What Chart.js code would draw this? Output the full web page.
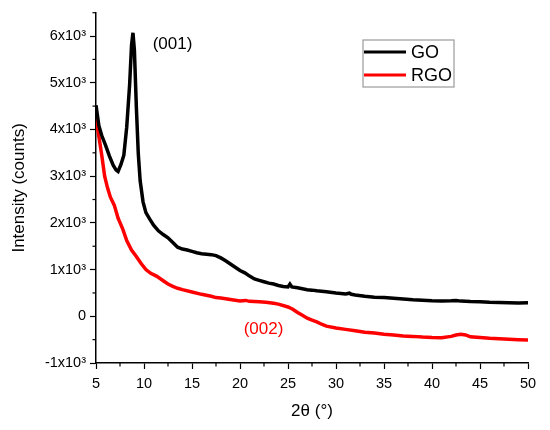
<!DOCTYPE html>
<html>
<head>
<meta charset="utf-8">
<script src="https://cdn.jsdelivr.net/npm/chart.js@4.4.0/dist/chart.umd.min.js"></script>
<style>
  html, body { margin: 0; padding: 0; background: #fff; }
  #wrap { width: 550px; height: 430px; }
</style>
</head>
<body>
<div id="wrap"><canvas id="xrd"></canvas></div>
<script>
// GO pattern
const goAngle = [5.0, 5.3, 5.6, 6.0, 6.4, 6.8, 7.1, 7.3, 7.6, 7.9, 8.2, 8.5, 8.7, 8.85, 9.0, 9.2, 9.4, 9.6, 9.9, 10.2,
  10.6, 11.0, 11.5, 12.0, 12.5, 13.0, 13.5, 14.0, 14.5, 15.0, 15.5, 16.0, 16.5, 17.0, 17.5, 18.0, 18.5, 19.0, 19.5, 20.0,
  20.5, 21.0, 21.5, 22.0, 22.5, 23.0, 23.5, 24.0, 24.5, 25.0, 25.2, 25.4, 26.0, 26.5, 27.0, 27.5, 28.0, 29.0, 30.0, 31.0,
  31.4, 31.6, 32.0, 33.0, 34.0, 35.0, 36.0, 37.0, 38.0, 39.0, 40.0, 41.0, 42.0, 42.5, 43.0, 44.0, 45.0, 46.0, 47.0, 48.0,
  49.0, 50.0];
const goCounts = [4520, 4080, 3870, 3660, 3430, 3230, 3130, 3100, 3250, 3450, 4050, 4950, 5800, 6070, 5700, 4500, 3500, 2900, 2450, 2220,
  2080, 1950, 1830, 1750, 1680, 1580, 1480, 1440, 1420, 1390, 1360, 1340, 1330, 1320, 1300, 1250, 1190, 1120, 1050, 980,
  930, 860, 800, 770, 740, 710, 690, 660, 640, 630, 690, 630, 610, 590, 570, 560, 545, 525, 500, 480,
  495, 470, 455, 430, 410, 400, 385, 370, 355, 345, 335, 330, 335, 340, 325, 315, 310, 300, 295, 290,
  285, 290];

// RGO pattern
const rgoAngle = [5.0, 5.3, 5.6, 5.9, 6.2, 6.5, 6.9, 7.3, 7.8, 8.2, 8.7, 9.2, 9.7, 10.2, 10.7, 11.3, 12.0, 12.5, 13.0, 13.5,
  14.0, 15.0, 16.0, 17.0, 17.5, 18.0, 19.0, 20.0, 20.6, 21.0, 22.0, 22.7, 23.5, 24.0, 25.0, 25.5, 26.0, 26.5, 27.0, 27.5,
  28.0, 28.5, 29.0, 30.0, 31.0, 32.0, 33.0, 34.0, 35.0, 36.0, 37.0, 38.0, 39.0, 40.0, 41.0, 42.0, 42.5, 43.0, 43.5, 44.0,
  45.0, 46.0, 47.0, 48.0, 49.0, 50.0];
const rgoCounts = [4250, 3850, 3450, 3000, 2750, 2550, 2380, 2100, 1860, 1620, 1420, 1280, 1130, 1000, 920, 860, 760, 690, 640, 600,
  570, 520, 470, 430, 400, 390, 360, 330, 340, 320, 310, 300, 280, 260, 200, 150, 80, 20, -40, -80,
  -120, -170, -210, -250, -280, -310, -340, -360, -385, -400, -420, -430, -445, -455, -460, -430, -400, -385, -400, -440,
  -455, -470, -480, -490, -500, -510];

const seriesNames = ['GO', 'RGO'];
const seriesColors = ['#000000', '#ff0000'];

const xTicks = [5, 10, 15, 20, 25, 30, 35, 40, 45, 50];
const yTicks = [-1000, 0, 1000, 2000, 3000, 4000, 5000, 6000];

const peakLabels = ['(001)', '(002)'];
const peakLabelAt = [[12.97, 5820], [22.45, -280]];
const peakLabelColors = ['#000000', '#ff0000'];

const FONT = '"Liberation Sans", Arial, sans-serif';

function toPoints(xs, ys) {
  return xs.map((x, i) => ({ x: x, y: ys[i] }));
}

// minor ticks, peak labels and the boxed legend
const extras = {
  id: 'extras',
  afterDraw(chart) {
    const ctx = chart.ctx;
    const xs = chart.scales.x;
    const ys = chart.scales.y;
    const area = chart.chartArea;
    ctx.save();
    ctx.strokeStyle = '#000';
    ctx.lineWidth = 1.2;
    for (let i = 0; i < xTicks.length - 1; i++) {
      const px = xs.getPixelForValue((xTicks[i] + xTicks[i + 1]) / 2);
      ctx.beginPath();
      ctx.moveTo(px, area.bottom);
      ctx.lineTo(px, area.bottom + 3.5);
      ctx.stroke();
    }
    for (let i = 0; i < yTicks.length; i++) {
      const py = ys.getPixelForValue(yTicks[i] + 500);
      ctx.beginPath();
      ctx.moveTo(area.left, py);
      ctx.lineTo(area.left - 3.5, py);
      ctx.stroke();
    }

    ctx.font = '17px ' + FONT;
    ctx.textAlign = 'center';
    ctx.textBaseline = 'middle';
    peakLabels.forEach((t, i) => {
      ctx.fillStyle = peakLabelColors[i];
      ctx.fillText(t, xs.getPixelForValue(peakLabelAt[i][0]), ys.getPixelForValue(peakLabelAt[i][1]));
    });

    // legend box
    const bx = 363, by = 40, bw = 91, bh = 47;
    ctx.strokeStyle = '#9a9a9a';
    ctx.lineWidth = 1.2;
    ctx.strokeRect(bx, by, bw, bh);
    ctx.font = '18px ' + FONT;
    ctx.textAlign = 'left';
    chart.data.datasets.forEach((ds, i) => {
      const ly = by + 12 + i * 23;
      ctx.strokeStyle = ds.borderColor;
      ctx.lineWidth = 3;
      ctx.beginPath();
      ctx.moveTo(bx + 1, ly);
      ctx.lineTo(bx + 43, ly);
      ctx.stroke();
      ctx.fillStyle = '#000';
      ctx.fillText(ds.label, bx + 48, ly + 1);
    });
    ctx.restore();
  }
};

new Chart(document.getElementById('xrd'), {
  type: 'line',
  data: {
    datasets: [
      {
        label: seriesNames[0],
        data: toPoints(goAngle, goCounts),
        borderColor: seriesColors[0],
        borderWidth: 3.5,
        pointRadius: 0,
        tension: 0
      },
      {
        label: seriesNames[1],
        data: toPoints(rgoAngle, rgoCounts),
        borderColor: seriesColors[1],
        borderWidth: 3.5,
        pointRadius: 0,
        tension: 0
      }
    ]
  },
  options: {
    responsive: true,
    maintainAspectRatio: false,
    animation: false,
    layout: { padding: { top: 12, right: 22, left: 0, bottom: 0 } },
    plugins: {
      legend: { display: false },
      tooltip: { enabled: false }
    },
    scales: {
      x: {
        type: 'linear',
        min: 5,
        max: 50,
        afterBuildTicks: s => { s.ticks = xTicks.map(v => ({ value: v })); },
        afterFit: s => { s.height = 67; },
        grid: { drawOnChartArea: false, drawTicks: true, tickLength: 6, tickColor: '#000', tickWidth: 1.2 },
        border: { display: true, color: '#000', width: 1.5 },
        ticks: { color: '#000', font: { family: FONT, size: 14.5 }, padding: 6, maxRotation: 0 },
        title: { display: true, text: '2θ (°)', color: '#000', font: { family: FONT, size: 17 }, padding: { top: 4, bottom: 8 } }
      },
      y: {
        type: 'linear',
        min: -1000,
        max: 6500,
        afterBuildTicks: s => { s.ticks = yTicks.map(v => ({ value: v })); },
        afterFit: s => { s.width = 96; },
        grid: { drawOnChartArea: false, drawTicks: true, tickLength: 6, tickColor: '#000', tickWidth: 1.2 },
        border: { display: true, color: '#000', width: 1.5 },
        ticks: {
          color: '#000',
          font: { family: FONT, size: 14.5 },
          padding: 4,
          callback: v => v === 0 ? '0' : (v / 1000) + 'x10³'
        },
        title: { display: true, text: 'Intensity (counts)', color: '#000', font: { family: FONT, size: 17 }, padding: { top: 9, bottom: 4 } }
      }
    }
  },
  plugins: [extras]
});
</script>
</body>
</html>
